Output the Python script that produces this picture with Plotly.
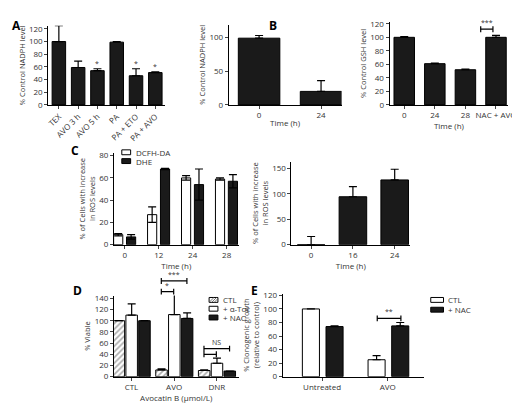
import plotly.graph_objects as go

W, H = 520, 403
FONT = dict(family="Open Sans", size=8, color="#333")
TFONT = dict(family="Open Sans", size=7.5, color="#333")

# ---- data ----
a1_cats = ["TEX", "AVO 3 h", "AVO 5 h", "PA", "PA + ETO", "PA + AVO"]
a1_vals = [100, 59, 54, 99, 46, 51]
a1_err = [25, 10, 3, 1, 11, 1]
a2_cats = ["0", "24"]
a2_vals = [99, 20]
a2_err = [4, 16]
b_cats = ["0", "24", "28", "NAC + AVO"]
b_vals = [100, 61, 52, 100]
b_err = [1, 1, 1, 3]
c1_cats = ["0", "12", "24", "28"]
c1_dcfh = [9, 27, 60, 59]
c1_dcfh_err = [1, 7, 2, 1]
c1_dhe = [7, 68, 54, 57]
c1_dhe_err = [2, 0.5, 14, 6]
c2_cats = ["0", "16", "24"]
c2_vals = [0, 94, 127]
c2_err = [16, 20, 21]
d_cats = ["CTL", "AVO", "DNR"]
d_ctl = [100, 12, 11]
d_ctl_err = [0, 2, 1]
d_toc = [110, 111, 24]
d_toc_err = [20, 37, 9]
d_nac = [100, 104, 10]
d_nac_err = [0, 10, 0]
e_cats = ["Untreated", "AVO"]
e_ctl = [100, 25]
e_ctl_err = [0, 6]
e_nac = [74, 75]
e_nac_err = [1, 5]

fig = go.Figure()

def px(x0, x1):
    return [x0 / W, x1 / W]

def py(top, bot):
    return [1 - bot / H, 1 - top / H]

axes = {
    "1": (px(39, 158), py(14, 95), [-0.55, 5.5], [0, 125], 20, None, "% Control NADPH level", -45),
    "2": (px(223, 338), py(13, 95), [-0.49, 1.33], [0, 119], 50, "Time (h)", "% Control NADPH level", 0),
    "3": (px(387, 508), py(10, 95), [-0.48, 3.4], [0, 123], 20, "Time (h)", "% Control GSH level", 0),
    "4": (px(106, 233), py(144, 238), [-0.32, 3.35], [0, 82.6], 20, "Time (h)", "% of Cells with increase<br>in ROS levels", 0),
    "5": (px(287, 408), py(153, 238), [-0.47, 2.37], [0, 163], 50, "Time (h)", "% of Cells with increase<br>in ROS levels", 0),
    "6": (px(106, 233), py(290, 373), [-0.41, 2.51], [0, 145], 20, "Avocatin B (µmol/L)", "% Viable", 0),
    "7": (px(278, 422), py(288, 373), [-0.6, 1.55], [0, 122.7], 20, None, "% Clonogenic growth<br>(relative to control)", 0),
}
for k, (xd, yd, xr, yr, dt, xt, yt, ang) in axes.items():
    xa = "xaxis" if k == "1" else f"xaxis{k}"
    ya = "yaxis" if k == "1" else f"yaxis{k}"
    yid = "y" if k == "1" else f"y{k}"
    xid = "x" if k == "1" else f"x{k}"
    fig.layout[xa] = dict(domain=xd, range=xr, anchor=yid, type="category", showline=True,
                          linecolor="black", linewidth=1, ticks="outside", ticklen=3,
                          tickangle=ang, showgrid=False, zeroline=False,
                          title=dict(text=xt, standoff=0, font=FONT), tickfont=FONT, fixedrange=True)
    fig.layout[ya] = dict(domain=yd, range=yr, anchor=xid, dtick=dt, showline=True,
                          linecolor="black", linewidth=1, ticks="outside", ticklen=3,
                          showgrid=False, zeroline=False,
                          title=dict(text=yt, standoff=2, font=TFONT), tickfont=FONT)

def ids(k):
    return ("x" if k == "1" else f"x{k}"), ("y" if k == "1" else f"y{k}")

def ypaper(k, y):
    _, yd, _, yr, *_ = axes[k]
    return yd[0] + (yd[1] - yd[0]) * (y - yr[0]) / (yr[1] - yr[0])

def bar(k, cats, vals, err, width, offset=None, fill="#1a1a1a", pattern=False, sym=False):
    xid, yid = ids(k)
    eb = dict(type="data", array=err, color="black", thickness=1.2, width=4)
    if not sym:
        eb["symmetric"] = False
        eb["arrayminus"] = [0] * len(err)
    marker = dict(color=fill, line=dict(color="black", width=1))
    if pattern:
        marker["pattern"] = dict(shape="/", fgcolor="#555", bgcolor="white", size=4, solidity=0.4)
    t = go.Bar(x=cats, y=vals, width=width, xaxis=xid, yaxis=yid, marker=marker,
               error_y=eb, showlegend=False)
    if offset is not None:
        t.offset = offset
    fig.add_trace(t)

bar("1", a1_cats, a1_vals, a1_err, 0.7)
bar("2", a2_cats, a2_vals, a2_err, 0.67)
bar("3", b_cats, b_vals, b_err, 0.67)
bar("4", c1_cats, c1_dcfh, c1_dcfh_err, 0.27, offset=-0.33, fill="white", sym=True)
bar("4", c1_cats, c1_dhe, c1_dhe_err, 0.27, offset=0.05, sym=True)
bar("5", c2_cats, c2_vals, c2_err, 0.66)
bar("6", d_cats, d_ctl, d_ctl_err, 0.27, offset=-0.43, fill="white", pattern=True)
bar("6", d_cats, d_toc, d_toc_err, 0.27, offset=-0.13, fill="white")
bar("6", d_cats, d_nac, d_nac_err, 0.27, offset=0.17)
bar("7", e_cats, e_ctl, e_ctl_err, 0.26, offset=-0.3, fill="white")
bar("7", e_cats, e_nac, e_nac_err, 0.26, offset=0.06)

SF = dict(family="Open Sans", size=7, color="#333")

def star(k, x, y, text, xshift=0):
    xid, yid = ids(k)
    fig.add_annotation(x=x, y=y, xref=xid, yref=yid, text=text, showarrow=False,
                       font=SF, yanchor="bottom", xshift=xshift, yshift=-1)

for i in [2, 4, 5]:
    star("1", a1_cats[i], a1_vals[i] + a1_err[i], "*")
star("2", "24", 36, "*")
star("3", "24", 62, "***")
star("3", "28", 53, "***")
for i, s in [(1, "**"), (2, "***"), (3, "***")]:
    star("4", c1_cats[i], c1_dcfh[i] + c1_dcfh_err[i], s, xshift=-6)
for i in [1, 2, 3]:
    star("4", c1_cats[i], c1_dhe[i] + c1_dhe_err[i], "***", xshift=6)
star("5", "16", 114, "*")
star("5", "24", 148, "**")

def bracket(k, x0, x1, y, text):
    xid, _ = ids(k)
    yp = ypaper(k, y)
    t = 3 / H
    line = dict(color="black", width=1.2)
    fig.add_shape(type="line", x0=x0, x1=x1, y0=yp, y1=yp, xref=xid, yref="paper", line=line)
    for xx in (x0, x1):
        fig.add_shape(type="line", x0=xx, x1=xx, y0=yp - t, y1=yp + t, xref=xid, yref="paper", line=line)
    if text:
        fig.add_annotation(x=(x0 + x1) / 2, y=yp, xref=xid, yref="paper", text=text, showarrow=False,
                           font=SF, yanchor="bottom", yshift=0)

bracket("3", 2.5, 2.9, 112, "***")
bracket("6", 0.7, 0.99, 152, "*")
bracket("6", 0.7, 1.3, 171, "***")
bracket("6", 1.7, 1.99, 40, "")
bracket("6", 1.7, 2.3, 50, "NS")
bracket("7", 0.84, 1.2, 86, "**")

for txt, x, y in [("A", 0, 3), ("B", 262, 3), ("C", 60, 131), ("D", 62, 274), ("E", 244, 274)]:
    fig.add_annotation(x=x / W, y=1 - y / H, xref="paper", yref="paper", text=f"<b>{txt}</b>",
                       showarrow=False, xanchor="left", yanchor="top",
                       font=dict(family="Open Sans", size=12, color="black"))

# manual legends
def legend_item(x, y, w, h, label, fill, pattern=False):
    fig.add_shape(type="rect", x0=x / W, x1=(x + w) / W, y0=1 - (y + h) / H, y1=1 - y / H,
                  xref="paper", yref="paper", fillcolor=fill, line=dict(color="black", width=1))
    if pattern:
        for i in range(4):
            xa = x + i * w / 3.5
            fig.add_shape(type="line", x0=xa / W, x1=min(xa + h, x + w) / W,
                          y0=1 - (y + h) / H, y1=1 - (y + h - min(h, x + w - xa)) / H,
                          xref="paper", yref="paper", line=dict(color="#555", width=0.8))
    fig.add_annotation(x=(x + w + 3) / W, y=1 - (y + h / 2) / H, xref="paper", yref="paper",
                       text=label, showarrow=False, xanchor="left", yanchor="middle", font=FONT)

legend_item(114, 141, 9, 5, "DCFH-DA", "white")
legend_item(114, 150, 9, 5, "DHE", "#1a1a1a")
legend_item(203, 292, 9, 5, "CTL", "white", pattern=True)
legend_item(203, 301, 9, 5, "+ α-Toc", "white")
legend_item(203, 310, 9, 5, "+ NAC", "#1a1a1a")
legend_item(429, 292, 13, 5, "CTL", "white")
legend_item(429, 302, 13, 5, "+ NAC", "#1a1a1a")

fig.update_layout(
    width=W, height=H, margin=dict(l=0, r=0, t=0, b=0), showlegend=False,
    paper_bgcolor="white", plot_bgcolor="white", font=FONT, barmode="overlay",
)
fig.write_html("out.html")
